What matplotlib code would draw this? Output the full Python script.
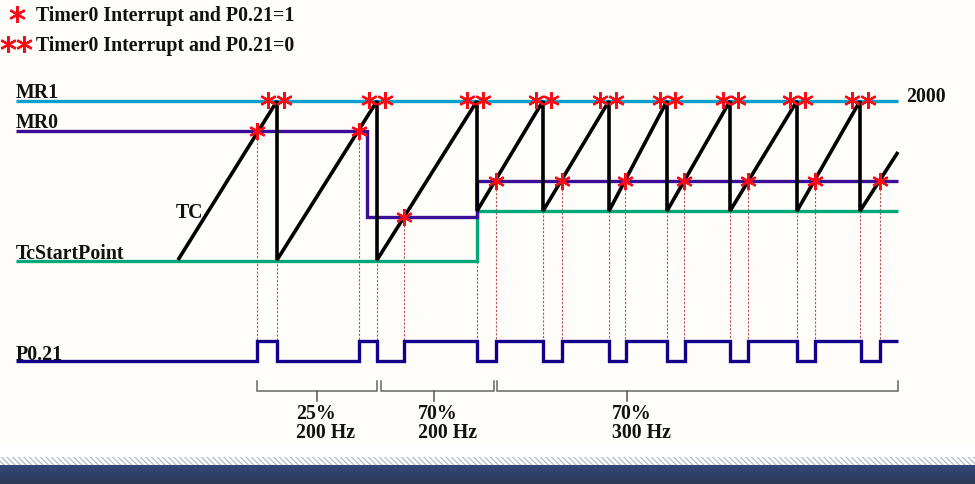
import matplotlib
matplotlib.use("Agg")
import matplotlib.pyplot as plt
import numpy as np

# Horizontal scale: timeline position; vertical scale: diagram level (both)
tc_x = [178, 277, 277, 377, 377, 477, 477, 543, 543, 609, 609, 667, 667, 730, 730, 797, 797, 860, 860, 898]
tc_y = [261, 102, 261, 102, 261, 102, 212, 102, 212, 102, 212, 102, 212, 102, 212, 102, 212, 102, 212, 153]
mr1_x = [16, 898]
mr1_y = [101.5, 101.5]
mr0_x = [16, 367, 367, 477, 477, 898]
mr0_y = [131.5, 131.5, 217.5, 217.5, 181.7, 181.7]
start_x = [16, 477, 477, 898]
start_y = [261.5, 261.5, 211.7, 211.7]
p_edges = [257, 277, 359, 377, 404, 477, 496, 543, 562, 609, 625.5, 667, 685, 730, 748, 797, 815, 861, 880]
p_low, p_high = 362, 342
p_start, p_end = 16, 898
match_x = [257, 359, 404, 496, 562, 625, 684, 748, 815, 880]
match_y = [131.5, 131.5, 217.5, 181.7, 181.7, 181.7, 181.7, 181.7, 181.7, 181.7]
mr1_star_x = [268, 284, 369, 385, 467, 483, 536, 551, 600, 616, 660, 675, 723, 738, 790, 805, 852, 868]
reset_x = [277, 377, 477, 543, 609, 667, 730, 797, 860]
reset_y = [261, 261, 212, 212, 212, 212, 212, 212, 212]
brackets = [(257, 377), (381, 494), (497, 897.5)]
bracket_mid = [317, 434, 627]
bracket_labels = [("25%", "200 Hz"), ("70%", "200 Hz"), ("70%", "300 Hz")]
label_x = [296, 418, 612]
legend_labels = ["Timer0 Interrupt and P0.21=1", "Timer0 Interrupt and P0.21=0"]
signal_labels = [("MR1", 16, 93.5), ("MR0", 16, 123.5), ("TcStartPoint", 16, 254), ("P0.21", 16, 355), ("TC", 176, 213), ("2000", 906, 96.5)]

BG = "#FFFDF9"
FS = 14.3
fig = plt.figure(figsize=(9.75, 4.85), dpi=100, facecolor="white")
ax = fig.add_axes([0, 0, 1, 1])
ax.set_xlim(0, 975)
ax.set_ylim(485, 0)
ax.axis("off")
serif = dict(family="Liberation Serif", weight="bold", color="#111111")

ax.axhspan(0, 443, color=BG, lw=0, zorder=0)
ax.axhspan(458, 466, facecolor="white", edgecolor="#B5C2CC", hatch="\\\\\\\\\\\\", lw=0, zorder=0)
grad = np.linspace(0, 1, 20)[:, None, None] * (np.array([0x2B, 0x3A, 0x55]) - np.array([0x33, 0x48, 0x7A])) + np.array([0x33, 0x48, 0x7A])
ax.imshow(grad / 255, extent=[0, 975, 485, 466], aspect="auto", zorder=0)
ax.set_xlim(0, 975)
ax.set_ylim(485, 0)

# Drop lines
drop = dict(color="#B8505E", lw=0.8, ls=(0, (2, 1.5)), zorder=1)
for x, y0 in zip(reset_x, reset_y):
    ax.plot([x, x], [y0, p_high], **drop)
for x, y in zip(match_x, match_y):
    ax.plot([x, x], [y, p_high], **drop)

ax.plot(mr1_x, mr1_y, color="#0AA0CC", lw=2.4, solid_capstyle="butt", zorder=2)
ax.plot(start_x, start_y, color="#00A878", lw=2.4, solid_joinstyle="miter", solid_capstyle="butt", zorder=2)
ax.plot(mr0_x, mr0_y, color="#3A0E96", lw=2.4, solid_joinstyle="miter", solid_capstyle="butt", zorder=3)
ax.plot(tc_x, tc_y, color="black", lw=2.6, solid_joinstyle="bevel", solid_capstyle="butt", zorder=4)

# P0.21 square wave
px = [p_start]
py = [p_low]
level = p_low
for e in p_edges:
    px += [e, e]
    py += [level, p_low + p_high - level]
    level = p_low + p_high - level
px.append(p_end)
py.append(level)
ax.plot(px, py, color="#12008C", lw=2.4, solid_joinstyle="miter", solid_capstyle="butt", zorder=3)

star = dict(marker=(6, 2, 0), color="#FF0A14", ms=12, mew=1.6, ls="none", zorder=5)
ax.plot(match_x, match_y, **star)
ax.plot(mr1_star_x, [101] * len(mr1_star_x), **star)
ax.plot([17], [15], **star)
ax.plot([8, 24], [45, 45], **star)

ax.text(36, 16.5, legend_labels[0], fontsize=FS, va="center", **serif)
ax.text(36, 46.5, legend_labels[1], fontsize=FS, va="center", **serif)
for t, x, y in signal_labels:
    ax.text(x, y, t, fontsize=FS, va="center", **serif)

for (a, b), m, (l1, l2), lx in zip(brackets, bracket_mid, bracket_labels, label_x):
    ax.plot([a, a, b, b], [382, 392, 392, 382], color="#666666", lw=1.1, solid_joinstyle="miter", zorder=2)
    ax.plot([m, m], [392, 402], color="#555555", lw=1.1, zorder=2)
    ax.text(lx, 414, l1, fontsize=FS, va="center", **serif)
    ax.text(lx, 433, l2, fontsize=FS, va="center", **serif)

fig.savefig("out.png", dpi=100, facecolor="white")
